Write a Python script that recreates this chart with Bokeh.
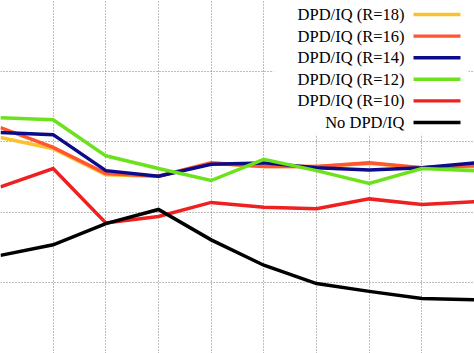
from bokeh.plotting import figure
from bokeh.models import Range1d, Label, BoxAnnotation, FixedTicker
from bokeh.embed import file_html
from bokeh.resources import INLINE

# ---- data ----
x = list(range(10))
series_names = ["DPD/IQ (R=18)", "DPD/IQ (R=16)", "DPD/IQ (R=14)",
                "DPD/IQ (R=12)", "DPD/IQ (R=10)", "No DPD/IQ"]
r18 = [30.6, 29.0, 25.3, 25.1, 26.9, 26.5, 26.5, 26.9, 26.3, 26.5]
r16 = [32.0, 29.2, 25.5, 25.1, 27.0, 26.5, 26.5, 27.0, 26.3, 26.6]
r14 = [31.3, 31.0, 25.9, 25.1, 26.8, 27.0, 26.3, 26.0, 26.3, 27.0]
r12 = [33.4, 33.1, 28.0, 26.2, 24.5, 27.5, 25.9, 24.1, 26.2, 25.9]
r10 = [23.6, 26.2, 18.5, 19.4, 21.4, 20.7, 20.5, 21.9, 21.1, 21.5]
nodpd = [13.9, 15.4, 18.4, 20.4, 16.1, 12.5, 9.9, 8.8, 7.8, 7.6]
series = [r18, r16, r14, r12, r10, nodpd]
colors = ["#F9C22E", "#FF5530", "#0C0C8A", "#6CE21C", "#EE2020", "#000000"]
x_ticks = list(range(10))
y_ticks = [0, 10, 20, 30, 40, 50]

W, H = 474, 353
p = figure(width=W, height=H, output_backend="svg", toolbar_location=None,
           x_range=Range1d(0, 9), y_range=Range1d(0, 50),
           min_border=0, min_border_left=0, min_border_right=0,
           min_border_top=0, min_border_bottom=0)
p.outline_line_color = None
p.background_fill_color = "white"
p.border_fill_color = "white"

for ax in list(p.axis):
    ax.visible = False

p.xgrid.ticker = FixedTicker(ticks=x_ticks)
p.ygrid.ticker = FixedTicker(ticks=y_ticks)
for g in (p.xgrid, p.ygrid):
    g.grid_line_color = "#7a7a7a"
    g.grid_line_dash = "1 2"
    g.grid_line_width = 1

for ys, c in zip(series, colors):
    p.line(x, ys, line_color=c, line_width=3.5, line_join="miter")

# legend (text right, line sample right of text)
legend_bg = BoxAnnotation(left=273, right=468, top=H, bottom=H - 134,
                          left_units="screen", right_units="screen",
                          top_units="screen", bottom_units="screen",
                          fill_color="white", fill_alpha=1.0, line_color=None,
                          level="underlay")
p.add_layout(legend_bg)
row_y = [14, 35.6, 57.2, 78.8, 100.4, 122]
for name, c, ry in zip(series_names, colors, row_y):
    p.add_layout(Label(x=404, y=H - ry, x_units="screen", y_units="screen",
                       text=name, text_align="right", text_baseline="middle",
                       text_font="Liberation Serif", text_font_size="16.5px",
                       text_color="black"))
    p.add_layout(BoxAnnotation(left=413, right=460, top=H - ry + 1.7, bottom=H - ry - 1.7,
                               left_units="screen", right_units="screen",
                               top_units="screen", bottom_units="screen",
                               fill_color=c, fill_alpha=1.0, line_color=None))

open("out.html", "w").write(file_html(p, INLINE))
